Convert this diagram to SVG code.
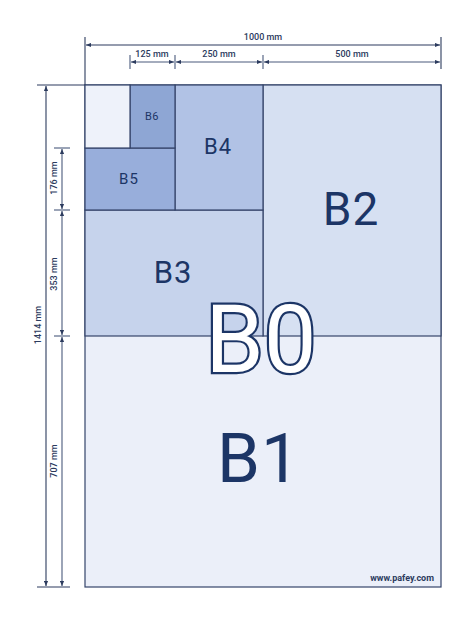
<svg xmlns="http://www.w3.org/2000/svg" width="474" height="621" viewBox="0 0 474 621">
<style>
.box{stroke:#34446a;stroke-width:1.2}
.lbl{font-family:Roboto,"Liberation Sans",sans-serif;fill:#1c3566;text-anchor:middle}
.dim{stroke:#2c3b5e;stroke-width:1.1;fill:none}
.dim2{stroke:#4a5a7c;stroke-width:1.1;fill:none}
.dt{font-family:Roboto,"Liberation Sans",sans-serif;font-size:9px;font-weight:500;fill:#2c3b5e;text-anchor:middle}
</style>
<defs>
<marker id="a" viewBox="0 0 6 6" refX="6" refY="3" markerWidth="5" markerHeight="5" orient="auto-start-reverse" markerUnits="userSpaceOnUse">
<path d="M0,0.5 L6,3 L0,5.5 Z" fill="#2c3b5e"/>
</marker>
</defs>
<rect width="474" height="621" fill="#ffffff"/>
<g id="B1"><rect class="box" x="85" y="85" width="356" height="502" fill="#ebeff9"/><text class="lbl" x="259" y="482" font-size="69" letter-spacing="1">B1</text></g>
<g id="B2"><rect class="box" x="263" y="85" width="178" height="251" fill="#d6e0f2"/><text class="lbl" x="351" y="225" font-size="46" letter-spacing="1">B2</text></g>
<g id="B3"><rect class="box" x="85" y="210" width="178" height="126" fill="#c6d3ec"/><text class="lbl" x="173" y="283" font-size="31" letter-spacing="1">B3</text></g>
<g id="B4"><rect class="box" x="175" y="85" width="88" height="125" fill="#b1c2e5"/><text class="lbl" x="218" y="154" font-size="22" letter-spacing="1">B4</text></g>
<g id="B5"><rect class="box" x="85" y="148" width="90" height="62" fill="#98aedb"/><text class="lbl" x="129" y="184" font-size="15" letter-spacing="1">B5</text></g>
<g id="B6"><rect class="box" x="130" y="85" width="45" height="63" fill="#8ea6d4"/><text class="lbl" x="152" y="119.5" font-size="11" letter-spacing="0.5">B6</text></g>
<g id="B7"><rect class="box" x="85" y="85" width="45" height="63" fill="#eef2fa"/></g>
<g id="B0"><text x="261" y="372" font-family="Roboto,'Liberation Sans',sans-serif" font-size="94" text-anchor="middle" fill="#ffffff" stroke="#1c3566" stroke-width="4.4" paint-order="stroke">B0</text></g>
<g id="connectors">
<line class="dim" x1="85" y1="37" x2="85" y2="85"/>
<line class="dim" x1="441" y1="37" x2="441" y2="69"/>
<line class="dim" x1="86" y1="45" x2="440" y2="45" marker-start="url(#a)" marker-end="url(#a)"/>
<line class="dim2" x1="130" y1="55" x2="130" y2="69"/>
<line class="dim2" x1="175" y1="55" x2="175" y2="69"/>
<line class="dim2" x1="263" y1="55" x2="263" y2="69"/>
<line class="dim2" x1="131" y1="62" x2="174" y2="62" marker-start="url(#a)" marker-end="url(#a)"/>
<line class="dim2" x1="176" y1="62" x2="262" y2="62" marker-start="url(#a)" marker-end="url(#a)"/>
<line class="dim2" x1="264" y1="62" x2="440" y2="62" marker-start="url(#a)" marker-end="url(#a)"/>
<line class="dim" x1="37" y1="85" x2="85" y2="85"/>
<line class="dim" x1="37" y1="587" x2="70" y2="587"/>
<line class="dim" x1="46" y1="86" x2="46" y2="586" marker-start="url(#a)" marker-end="url(#a)"/>
<line class="dim2" x1="54" y1="148" x2="70" y2="148"/>
<line class="dim2" x1="54" y1="210" x2="70" y2="210"/>
<line class="dim2" x1="54" y1="336" x2="70" y2="336"/>
<line class="dim2" x1="62" y1="149" x2="62" y2="209" marker-start="url(#a)" marker-end="url(#a)"/>
<line class="dim2" x1="62" y1="211" x2="62" y2="335" marker-start="url(#a)" marker-end="url(#a)"/>
<line class="dim2" x1="62" y1="337" x2="62" y2="586" marker-start="url(#a)" marker-end="url(#a)"/>
</g>
<g id="labels">
<text class="dt" x="263" y="40">1000 mm</text>
<text class="dt" x="152" y="57">125 mm</text>
<text class="dt" x="219" y="57">250 mm</text>
<text class="dt" x="352" y="57">500 mm</text>
<text class="dt" transform="translate(40.5,325) rotate(-90)">1414 mm</text>
<text class="dt" transform="translate(57,178) rotate(-90)">176 mm</text>
<text class="dt" transform="translate(57,274) rotate(-90)">353 mm</text>
<text class="dt" transform="translate(57,461) rotate(-90)">707 mm</text>
<text x="434" y="581" font-family="Roboto,'Liberation Sans',sans-serif" font-size="9" font-weight="bold" fill="#2c3b5e" text-anchor="end">www.pafey.com</text>
</g>
</svg>
